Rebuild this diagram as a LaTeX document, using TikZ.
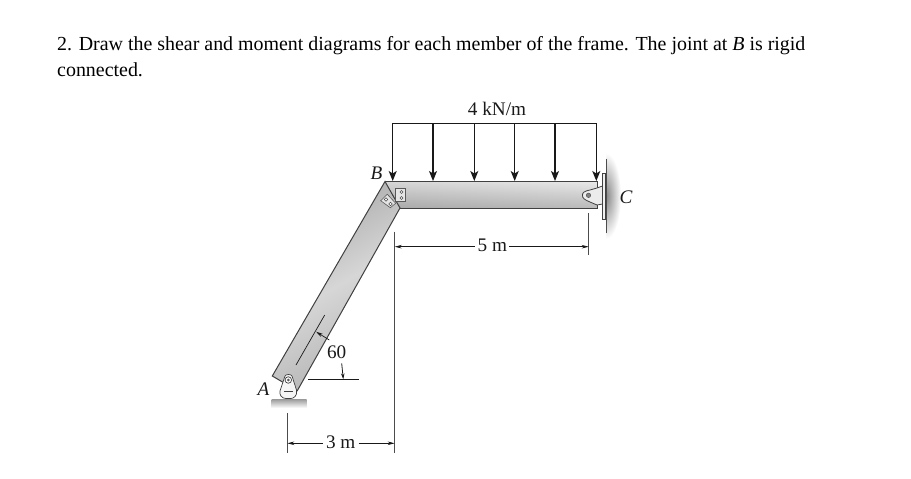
\documentclass[tikz,border=0pt]{standalone}
\usepackage{fontspec}
\setmainfont{Liberation Serif}
\usetikzlibrary{arrows.meta}
\definecolor{ink}{gray}{0.1}
\definecolor{edgec}{gray}{0.25}
\definecolor{dimc}{gray}{0.3}
\tikzset{
 x=1pt,y=-1pt,
 load/.style={draw=ink,line width=1.2pt,-{Stealth[length=10pt,width=8pt,inset=2.5pt]}},
 loadtop/.style={draw=ink,line width=1.1pt},
 dimline/.style={draw=dimc,line width=0.75pt},
 dimtipl/.style={draw=ink,line width=0.7pt,{Stealth[length=7pt,width=3.5pt]}-},
 dimtipr/.style={draw=ink,line width=0.7pt,-{Stealth[length=7pt,width=3.5pt]}},
 oneway/.style={draw=ink,line width=0.8pt,-{Stealth[length=6pt,width=3.5pt]}},
 member/.style={draw=edgec,line width=1pt},
 plate/.style={draw=gray!70!black,line width=0.6pt,fill=gray!20},
 hole/.style={draw=gray!60!black,line width=0.5pt,fill=white,circle,inner sep=0pt,minimum size=3.4pt},
 label/.style={inner sep=0pt,font=\fontsize{19.2pt}{22pt}\selectfont,text=ink},
 ilabel/.style={inner sep=0pt,font=\fontsize{19.2pt}{22pt}\selectfont\itshape,text=ink},
 title/.style={inner sep=0pt,anchor=base west,font=\fontsize{19.93pt}{23pt}\selectfont,text=black},
}
\begin{document}
\begin{tikzpicture}
\useasboundingbox (0,0) rectangle (911,479);
\fill[white] (0,0) rectangle (911,479);
% title
\node[title] (t1) at (57,50.5) {2. Draw the shear and moment diagrams for each member of the frame. The joint at \textit{B} is rigid};
\node[title] (t2) at (57,76.5) {connected.};
% named points
\coordinate (B) at (385,181.5);
\coordinate (Bi) at (400,208);
\coordinate (Ctop) at (597,181.5);
\coordinate (Cbot) at (597,208);
\coordinate (Al) at (272.3,376);
\coordinate (Ar) at (297.3,390.7);
% wall shade
\begin{scope}
\clip (606,150) rectangle (625,240);
\shade[inner color=gray!95,outer color=white] (606,196) ellipse [x radius=15,y radius=43];
\end{scope}
% horizontal beam
\shade[left color=gray!58,middle color=gray!15,right color=gray!28] (B) -- (Ctop) -- (Cbot) -- (Bi) -- cycle;
\shade[top color=gray!10,middle color=white,bottom color=gray!75,opacity=0.55] (B) -- (Ctop) -- (Cbot) -- (Bi) -- cycle;
\draw[member] (Bi) -- (Cbot) -- (Ctop) -- (B);
% inclined member
\shade[left color=gray!68,right color=gray!60,middle color=gray!32,shading angle=30] (B) -- (Bi) -- (Ar) -- (Al) -- cycle;
\draw[member] (Bi) -- (Ar) -- (Al) -- (B) -- cycle;
% joint plates
\draw[plate] (395,188.3) rectangle (405.7,201.7);
\node[hole,minimum size=3pt] (h1) at (401.5,192) {};
\node[hole,minimum size=3pt] (h2) at (401.5,198) {};
\draw[plate] (380.7,200.7) -- (387.3,194.3) -- (395.7,203.3) -- (390.3,207.7) -- cycle;
\node[hole] (h3) at (386,199.5) {};
\node[hole] (h4) at (390.5,204) {};
% support C
\draw[draw=edgec,line width=0.8pt,fill=gray!15] (597,188) -- (602.5,186) -- (602.5,204) -- (597,205) -- (590,202) .. controls (585,200) and (582,198) .. (582.5,195.3) .. controls (582,192.5) and (585,191) .. (590,190) -- cycle;
\node[circle,draw=gray!60!black,fill=gray,minimum size=4.5pt,inner sep=0pt] (pinC) at (588.5,195.3) {};
\draw[draw=edgec,line width=0.7pt,fill=gray!12] (602.3,173) rectangle (605.7,219);
\draw[draw=dimc,line width=0.8pt] (606.2,159) -- (606.2,232.7);
% support A
\shade[top color=gray!80,bottom color=white] (271.7,399) rectangle (306.7,408);
\draw[draw=edgec,line width=0.7pt,fill=gray!8] (285,376) .. controls (286,374) and (291,374) .. (292,376) -- (296.5,390) .. controls (298,396) and (293,398.5) .. (291,398.5) -- (286,398.5) .. controls (282,398.5) and (279,395) .. (280,391) -- cycle;
\draw[draw=edgec,line width=0.6pt] (284,391.3) -- (293,391.3);
\node[circle,draw=edgec,line width=0.7pt,fill=white,minimum size=6.5pt,inner sep=0pt] (pinA) at (288.3,380) {};
\node[circle,fill=gray!70!black,minimum size=3pt,inner sep=0pt] (pinAi) at (288.3,380) {};
% slope marks
\coordinate (c1) at (296,365);
\coordinate (c2) at (324.7,315);
\draw[draw=ink,line width=0.7pt] (c1) -- (c2);
\coordinate (p1) at (316,331.7);
\coordinate (p2) at (329.3,340);
\draw[dimtipl] (p1) -- (p2);
\node[label] (n60) at (336.7,352.3) {60};
\coordinate (ar1) at (341.7,363.3);
\coordinate (ar2) at (343.3,379.3);
\draw[oneway] (ar1) -- (ar2);
\coordinate (hl) at (308,379.7);
\coordinate (hr) at (359.3,379.7);
\draw[draw=ink,line width=0.8pt] (hl) -- (hr);
% load
\coordinate (l0) at (392.7,123.3);
\coordinate (l1) at (433,123.3);
\coordinate (l2) at (474.3,123.3);
\coordinate (l3) at (514.7,123.3);
\coordinate (l4) at (555,123.3);
\coordinate (l5) at (596.3,123.3);
\coordinate (b0) at (392.7,181);
\coordinate (b1) at (433,181);
\coordinate (b2) at (474.3,181);
\coordinate (b3) at (514.7,181);
\coordinate (b4) at (555,181);
\coordinate (b5) at (596.3,181);
\draw[loadtop] (l0) -- (l5);
\foreach \i in {0,...,5} \draw[load] (l\i) -- (b\i);
\node[label] (w) at (497,108.5) {4 kN/m};
\node[ilabel] (nB) at (376.5,173) {B};
\node[ilabel] (nC) at (626,197) {C};
\node[ilabel] (nA) at (263.5,389) {A};
% dimensions
\coordinate (v1t) at (394.7,231.7);
\coordinate (v1b) at (394.7,452.7);
\coordinate (v2t) at (588.7,213.3);
\coordinate (v2b) at (588.7,255);
\coordinate (v3t) at (287.3,413.3);
\coordinate (v3b) at (287.3,452.7);
\draw[dimline] (v1t) -- (v1b);
\draw[dimline] (v2t) -- (v2b);
\draw[dimline] (v3t) -- (v3b);
\node[label,inner xsep=2pt] (d5) at (492.3,245) {5 m};
\node[label,inner xsep=3pt] (d3) at (340.7,442.7) {3 m};
\coordinate (e5l) at (394.7,246.7);
\coordinate (e5r) at (588.7,246.7);
\coordinate (e3l) at (287.3,443.3);
\coordinate (e3r) at (394.7,443.3);
\draw[dimtipl] (e5l) -- (d5.west |- e5l);
\draw[dimtipr] (d5.east |- e5r) -- (e5r);
\draw[dimtipl] (e3l) -- (d3.west |- e3l);
\draw[dimtipr] (d3.east |- e3r) -- (e3r);
\end{tikzpicture}
\end{document}
